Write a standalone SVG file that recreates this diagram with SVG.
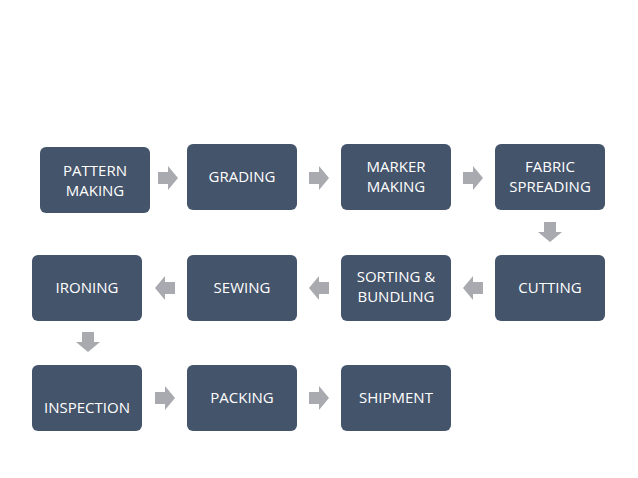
<svg xmlns="http://www.w3.org/2000/svg" width="638" height="478" viewBox="0 0 638 478">
<style>
.n rect{fill:#44546A}
.n text{fill:#fff;font-family:"Open Sans",sans-serif;font-size:15px;text-anchor:middle}
.a{fill:#A8AAAF}
</style>
<defs>
<path id="ar" d="M-10,-6 H0 V-12 L10,0 L0,12 V6 H-10 Z"/>
</defs>
<rect width="638" height="478" fill="#fff"/>
<g id="connectors" class="a">
<use href="#ar" transform="translate(168,178)"/>
<use href="#ar" transform="translate(319,178)"/>
<use href="#ar" transform="translate(473,178)"/>
<use href="#ar" transform="translate(550,232) rotate(90)"/>
<use href="#ar" transform="translate(473,288) rotate(180)"/>
<use href="#ar" transform="translate(319,288) rotate(180)"/>
<use href="#ar" transform="translate(165,288) rotate(180)"/>
<use href="#ar" transform="translate(88,342) rotate(90)"/>
<use href="#ar" transform="translate(165,398)"/>
<use href="#ar" transform="translate(319,398)"/>
</g>
<g id="pattern" class="n"><rect x="40" y="147" width="110" height="66" rx="6"/><text x="95" y="176">PATTERN</text><text x="95" y="196">MAKING</text></g>
<g id="grading" class="n"><rect x="187" y="144" width="110" height="66" rx="6"/><text x="242" y="182">GRADING</text></g>
<g id="marker" class="n"><rect x="341" y="144" width="110" height="66" rx="6"/><text x="396" y="172">MARKER</text><text x="396" y="192">MAKING</text></g>
<g id="fabric" class="n"><rect x="495" y="144" width="110" height="66" rx="6"/><text x="550" y="172">FABRIC</text><text x="550" y="192">SPREADING</text></g>
<g id="ironing" class="n"><rect x="32" y="255" width="110" height="66" rx="6"/><text x="87" y="293">IRONING</text></g>
<g id="sewing" class="n"><rect x="187" y="255" width="110" height="66" rx="6"/><text x="242" y="293">SEWING</text></g>
<g id="sorting" class="n"><rect x="341" y="255" width="110" height="66" rx="6"/><text x="396" y="282">SORTING &amp;</text><text x="396" y="302">BUNDLING</text></g>
<g id="cutting" class="n"><rect x="495" y="255" width="110" height="66" rx="6"/><text x="550" y="293">CUTTING</text></g>
<g id="inspection" class="n"><rect x="32" y="365" width="110" height="66" rx="6"/><text x="87" y="413">INSPECTION</text></g>
<g id="packing" class="n"><rect x="187" y="365" width="110" height="66" rx="6"/><text x="242" y="403">PACKING</text></g>
<g id="shipment" class="n"><rect x="341" y="365" width="110" height="66" rx="6"/><text x="396" y="403">SHIPMENT</text></g>
</svg>
